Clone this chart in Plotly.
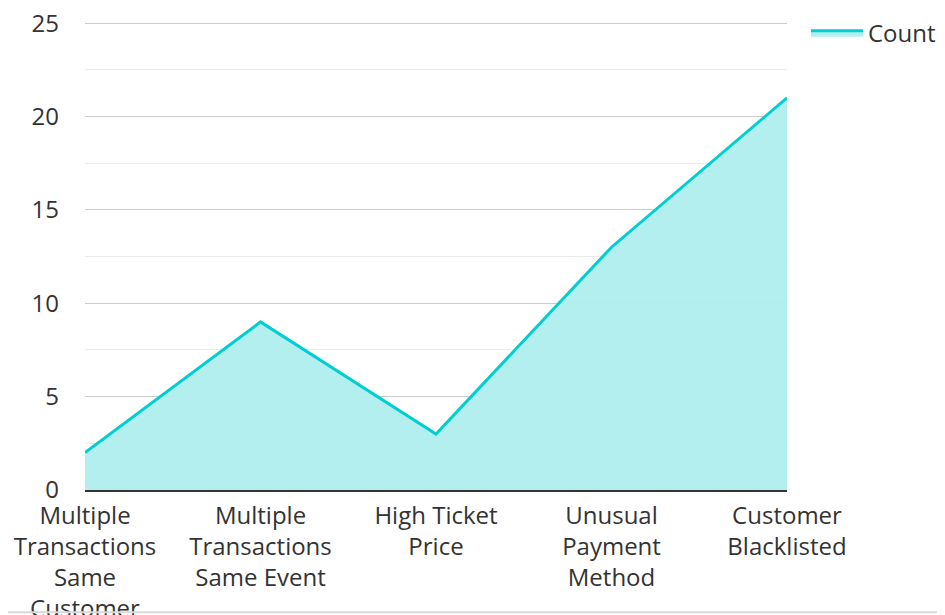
import plotly.graph_objects as go

categories = [
    "Multiple<br>Transactions<br>Same<br>Customer",
    "Multiple<br>Transactions<br>Same Event",
    "High Ticket<br>Price",
    "Unusual<br>Payment<br>Method",
    "Customer<br>Blacklisted",
]
counts = [2, 9, 3, 13, 21]
y_ticks = [0, 5, 10, 15, 20, 25]

fig = go.Figure()
fig.add_trace(go.Scatter(
    x=categories, y=counts, name="Count", mode="lines",
    line=dict(color="#00CED1", width=3),
    fill="tozeroy", fillcolor="rgba(175,238,238,0.95)",
))

font = dict(family="Open Sans, Noto Sans, sans-serif", size=24, color="#333333")
fig.update_layout(
    width=937, height=607,
    margin=dict(l=77, r=158, t=14, b=125, autoexpand=False),
    paper_bgcolor="white", plot_bgcolor="white",
    font=font,
    showlegend=True,
    legend=dict(x=1.027, y=1.024, xanchor="left", yanchor="top", font=font,
                itemwidth=52, bgcolor="rgba(0,0,0,0)"),
    xaxis=dict(range=[0, 4], showgrid=False, showline=True, linecolor="#333333",
               linewidth=2, ticks="", tickfont=font, automargin=False,
               ticklabelstandoff=3),
    yaxis=dict(range=[0, 25.06], tickvals=y_ticks, showgrid=True, gridcolor="#cccccc",
               gridwidth=1, zeroline=False, showline=False, ticks="",
               ticklabelstandoff=25, tickfont=font, automargin=False,
               ticklabeloverflow="allow",
               minor=dict(dtick=2.5, showgrid=True, gridcolor="#ebebeb", gridwidth=1)),
)
fig.add_shape(type="line", xref="paper", yref="paper", x0=-0.12, x1=1.24,
              y0=-0.2612, y1=-0.2612, line=dict(color="#d9d9d9", width=2))

fig.write_html("out.html")
